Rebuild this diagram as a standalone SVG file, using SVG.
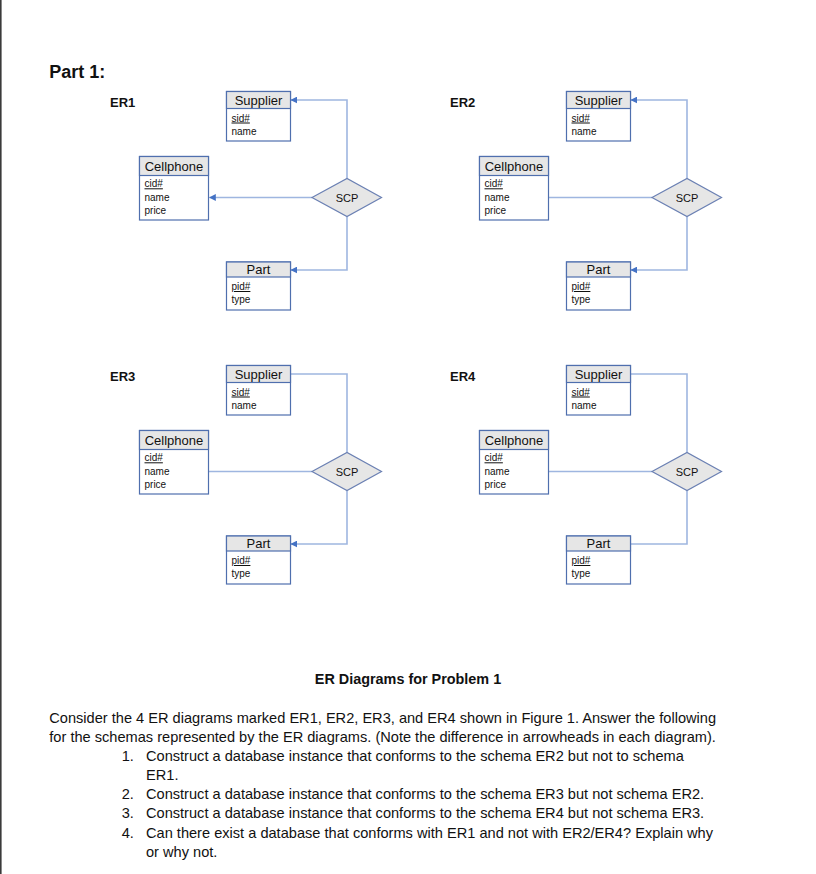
<svg xmlns="http://www.w3.org/2000/svg" width="816" height="874" viewBox="0 0 816 874">
<style>
.ent{fill:#ffffff;stroke:#4f6fae;stroke-width:1.2}
.hdr{fill:#e6e6e6;stroke:#4f6fae;stroke-width:1.2}
.rel{fill:#e6e6e6;stroke:#6b80b3;stroke-width:1.2}
.conn{fill:none;stroke:#9fb6e0;stroke-width:1.6}
.arr{marker-end:url(#ah)}
.ht{font-family:"Liberation Sans",Arial,sans-serif;font-size:13px;fill:#111;text-anchor:middle}
.at{font-family:"Liberation Sans",Arial,sans-serif;font-size:10px;fill:#111}
.key{text-decoration:underline}
.rt{font-family:"Liberation Sans",Arial,sans-serif;font-size:11px;fill:#111;text-anchor:middle}
.lbl{font-family:"Liberation Sans",Arial,sans-serif;font-size:13px;font-weight:bold;fill:#111}
.body{font-family:"Liberation Sans",Arial,sans-serif;font-size:14.6px;fill:#111}
</style>
<defs>
<marker id="ah" viewBox="0 0 10 10" refX="9" refY="5" markerWidth="7" markerHeight="7" markerUnits="userSpaceOnUse" orient="auto">
<path d="M0,0 L10,5 L0,10 z" fill="#4472c4"/>
</marker>
</defs>
<rect x="0" y="0" width="816" height="874" fill="#ffffff"/>
<rect x="0" y="0" width="1.6" height="874" fill="#3a3a3a"/>
<text x="49.3" y="77.7" font-family="Liberation Sans, Arial, sans-serif" font-size="18" font-weight="bold" fill="#111">Part 1:</text>

<!-- ER1 -->
<g id="er1" transform="translate(0,0)">
<text class="lbl" x="110" y="107.3">ER1</text>
<g id="er1-connectors">
<path class="conn arr" d="M347,178.5 V100 H291"/>
<path class="conn arr" d="M312,197.5 H209.5"/>
<path class="conn arr" d="M347,216.5 V270 H291"/>
</g>
<g id="er1-supplier">
<rect class="ent" x="226.5" y="91.5" width="64" height="49.5"/>
<rect class="hdr" x="226.5" y="91.5" width="64" height="17"/>
<text class="ht" x="258.5" y="105">Supplier</text>
<text class="at key" x="231.5" y="121.5">sid#</text>
<text class="at" x="231.5" y="135">name</text>
</g>
<g id="er1-cellphone">
<rect class="ent" x="139.5" y="156.5" width="69" height="63.5"/>
<rect class="hdr" x="139.5" y="156.5" width="69" height="19"/>
<text class="ht" x="174" y="171">Cellphone</text>
<text class="at key" x="144.5" y="187.3">cid#</text>
<text class="at" x="144.5" y="200.7">name</text>
<text class="at" x="144.5" y="214">price</text>
</g>
<g id="er1-part">
<rect class="ent" x="226.5" y="262" width="64" height="48"/>
<rect class="hdr" x="226.5" y="262" width="64" height="15"/>
<text class="ht" x="258.5" y="274.3">Part</text>
<text class="at key" x="231.5" y="290">pid#</text>
<text class="at" x="231.5" y="302.7">type</text>
</g>
<g id="er1-scp">
<polygon class="rel" points="312,197.5 347,178.5 381.5,197.5 347,216.5"/>
<text class="rt" x="347" y="201.5">SCP</text>
</g>
</g>

<!-- ER2 -->
<g id="er2" transform="translate(340,0)">
<text class="lbl" x="110" y="107.3">ER2</text>
<g id="er2-connectors">
<path class="conn arr" d="M347,178.5 V100 H291"/>
<path class="conn" d="M312,197.5 H208.5"/>
<path class="conn arr" d="M347,216.5 V270 H291"/>
</g>
<g id="er2-supplier">
<rect class="ent" x="226.5" y="91.5" width="64" height="49.5"/>
<rect class="hdr" x="226.5" y="91.5" width="64" height="17"/>
<text class="ht" x="258.5" y="105">Supplier</text>
<text class="at key" x="231.5" y="121.5">sid#</text>
<text class="at" x="231.5" y="135">name</text>
</g>
<g id="er2-cellphone">
<rect class="ent" x="139.5" y="156.5" width="69" height="63.5"/>
<rect class="hdr" x="139.5" y="156.5" width="69" height="19"/>
<text class="ht" x="174" y="171">Cellphone</text>
<text class="at key" x="144.5" y="187.3">cid#</text>
<text class="at" x="144.5" y="200.7">name</text>
<text class="at" x="144.5" y="214">price</text>
</g>
<g id="er2-part">
<rect class="ent" x="226.5" y="262" width="64" height="48"/>
<rect class="hdr" x="226.5" y="262" width="64" height="15"/>
<text class="ht" x="258.5" y="274.3">Part</text>
<text class="at key" x="231.5" y="290">pid#</text>
<text class="at" x="231.5" y="302.7">type</text>
</g>
<g id="er2-scp">
<polygon class="rel" points="312,197.5 347,178.5 381.5,197.5 347,216.5"/>
<text class="rt" x="347" y="201.5">SCP</text>
</g>
</g>

<!-- ER3 -->
<g id="er3" transform="translate(0,274)">
<text class="lbl" x="110" y="107.3">ER3</text>
<g id="er3-connectors">
<path class="conn" d="M347,178.5 V100 H290.5"/>
<path class="conn" d="M312,197.5 H208.5"/>
<path class="conn arr" d="M347,216.5 V270 H291"/>
</g>
<g id="er3-supplier">
<rect class="ent" x="226.5" y="91.5" width="64" height="49.5"/>
<rect class="hdr" x="226.5" y="91.5" width="64" height="17"/>
<text class="ht" x="258.5" y="105">Supplier</text>
<text class="at key" x="231.5" y="121.5">sid#</text>
<text class="at" x="231.5" y="135">name</text>
</g>
<g id="er3-cellphone">
<rect class="ent" x="139.5" y="156.5" width="69" height="63.5"/>
<rect class="hdr" x="139.5" y="156.5" width="69" height="19"/>
<text class="ht" x="174" y="171">Cellphone</text>
<text class="at key" x="144.5" y="187.3">cid#</text>
<text class="at" x="144.5" y="200.7">name</text>
<text class="at" x="144.5" y="214">price</text>
</g>
<g id="er3-part">
<rect class="ent" x="226.5" y="262" width="64" height="48"/>
<rect class="hdr" x="226.5" y="262" width="64" height="15"/>
<text class="ht" x="258.5" y="274.3">Part</text>
<text class="at key" x="231.5" y="290">pid#</text>
<text class="at" x="231.5" y="302.7">type</text>
</g>
<g id="er3-scp">
<polygon class="rel" points="312,197.5 347,178.5 381.5,197.5 347,216.5"/>
<text class="rt" x="347" y="201.5">SCP</text>
</g>
</g>

<!-- ER4 -->
<g id="er4" transform="translate(340,274)">
<text class="lbl" x="110" y="107.3">ER4</text>
<g id="er4-connectors">
<path class="conn" d="M347,178.5 V100 H290.5"/>
<path class="conn" d="M312,197.5 H208.5"/>
<path class="conn" d="M347,216.5 V270 H290.5"/>
</g>
<g id="er4-supplier">
<rect class="ent" x="226.5" y="91.5" width="64" height="49.5"/>
<rect class="hdr" x="226.5" y="91.5" width="64" height="17"/>
<text class="ht" x="258.5" y="105">Supplier</text>
<text class="at key" x="231.5" y="121.5">sid#</text>
<text class="at" x="231.5" y="135">name</text>
</g>
<g id="er4-cellphone">
<rect class="ent" x="139.5" y="156.5" width="69" height="63.5"/>
<rect class="hdr" x="139.5" y="156.5" width="69" height="19"/>
<text class="ht" x="174" y="171">Cellphone</text>
<text class="at key" x="144.5" y="187.3">cid#</text>
<text class="at" x="144.5" y="200.7">name</text>
<text class="at" x="144.5" y="214">price</text>
</g>
<g id="er4-part">
<rect class="ent" x="226.5" y="262" width="64" height="48"/>
<rect class="hdr" x="226.5" y="262" width="64" height="15"/>
<text class="ht" x="258.5" y="274.3">Part</text>
<text class="at key" x="231.5" y="290">pid#</text>
<text class="at" x="231.5" y="302.7">type</text>
</g>
<g id="er4-scp">
<polygon class="rel" points="312,197.5 347,178.5 381.5,197.5 347,216.5"/>
<text class="rt" x="347" y="201.5">SCP</text>
</g>
</g>

<text x="408" y="684" text-anchor="middle" font-family="Liberation Sans, Arial, sans-serif" font-size="14.4" font-weight="bold" fill="#111">ER Diagrams for Problem 1</text>

<text class="body" x="49.3" y="723">Consider the 4 ER diagrams marked ER1, ER2, ER3, and ER4 shown in Figure 1. Answer the following</text>
<text class="body" x="49.3" y="742">for the schemas represented by the ER diagrams. (Note the difference in arrowheads in each diagram).</text>
<text class="body" x="121.7" y="761">1.</text>
<text class="body" x="146" y="761">Construct a database instance that conforms to the schema ER2 but not to schema</text>
<text class="body" x="146" y="780">ER1.</text>
<text class="body" x="121.7" y="799">2.</text>
<text class="body" x="146" y="799">Construct a database instance that conforms to the schema ER3 but not schema ER2.</text>
<text class="body" x="121.7" y="818">3.</text>
<text class="body" x="146" y="818">Construct a database instance that conforms to the schema ER4 but not schema ER3.</text>
<text class="body" x="121.7" y="837.5">4.</text>
<text class="body" x="146" y="837.5">Can there exist a database that conforms with ER1 and not with ER2/ER4? Explain why</text>
<text class="body" x="146" y="857">or why not.</text>
</svg>
